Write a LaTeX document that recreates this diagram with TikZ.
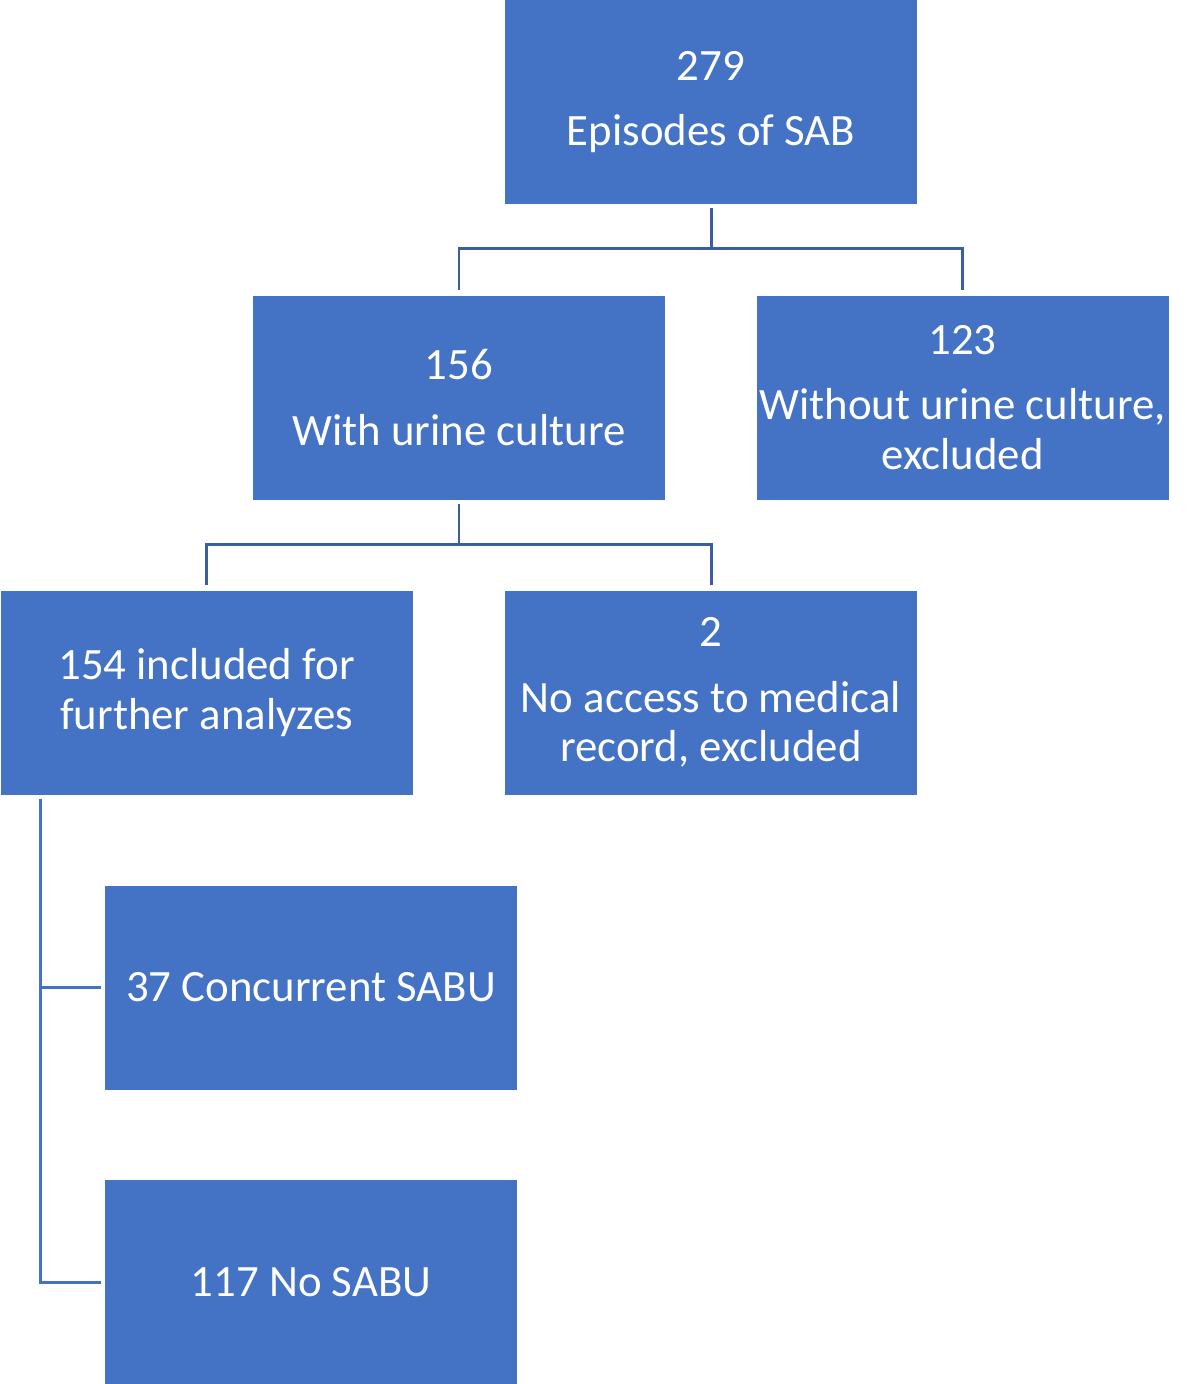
\documentclass[tikz,border=0pt]{standalone}
\usepackage{fontspec}
\setmainfont{Carlito}
\usetikzlibrary{positioning}

\definecolor{boxblue}{HTML}{4472C4}
\definecolor{linkblue}{RGB}{58,94,160}

\tikzset{
  flowbox/.style={fill=boxblue, text=white, minimum width=8.24cm, minimum height=4.08cm,
    inner sep=0pt, align=center, font=\fontsize{25.5pt}{28.4pt}\selectfont},
  link/.style={draw=linkblue, line width=1.7pt},
  sidelink/.style={draw=boxblue, line width=1.7pt}
}

\begin{document}
\begin{tikzpicture}
\useasboundingbox (0,0) rectangle (24,-27.68);

\node[flowbox] (top) at (14.22,-2.04) {279\\[9pt]Episodes of SAB};
\node[flowbox] (n156) at (9.18,-7.95) {156\\[9pt]With urine culture};
\node[flowbox] (n123) at (19.25,-7.95) {123\\[9pt]Without urine culture,\\excluded};
\node[flowbox] (n154) at (4.13,-13.85) {154 included for\\further analyzes};
\node[flowbox] (n2) at (14.22,-13.85) {2\\[9pt]No access to medical\\record, excluded};
\node[flowbox] (n37) at (6.22,-19.75) {37 Concurrent SABU};
\node[flowbox] (n117) at (6.22,-25.64) {117 No SABU};

% first split
\draw[link] ([yshift=-0.08cm]top.south) -- ([yshift=-0.88cm]top.south) -| ([yshift=0.1cm]n156.north);
\draw[link] ([yshift=-0.88cm]top.south) -| ([yshift=0.1cm]n123.north);

% second split
\draw[link] ([yshift=-0.08cm]n156.south) -- ([yshift=-0.9cm]n156.south) -| ([yshift=0.1cm]n154.north);
\draw[link] ([yshift=-0.9cm]n156.south) -| ([yshift=0.1cm]n2.north);

% side branch
\coordinate (spine) at ([xshift=0.8cm,yshift=-0.08cm]n154.south west);
\draw[sidelink] (spine) |- ([xshift=-0.08cm]n117.west);
\draw[sidelink] (spine) |- ([xshift=-0.08cm]n37.west);
\end{tikzpicture}
\end{document}
